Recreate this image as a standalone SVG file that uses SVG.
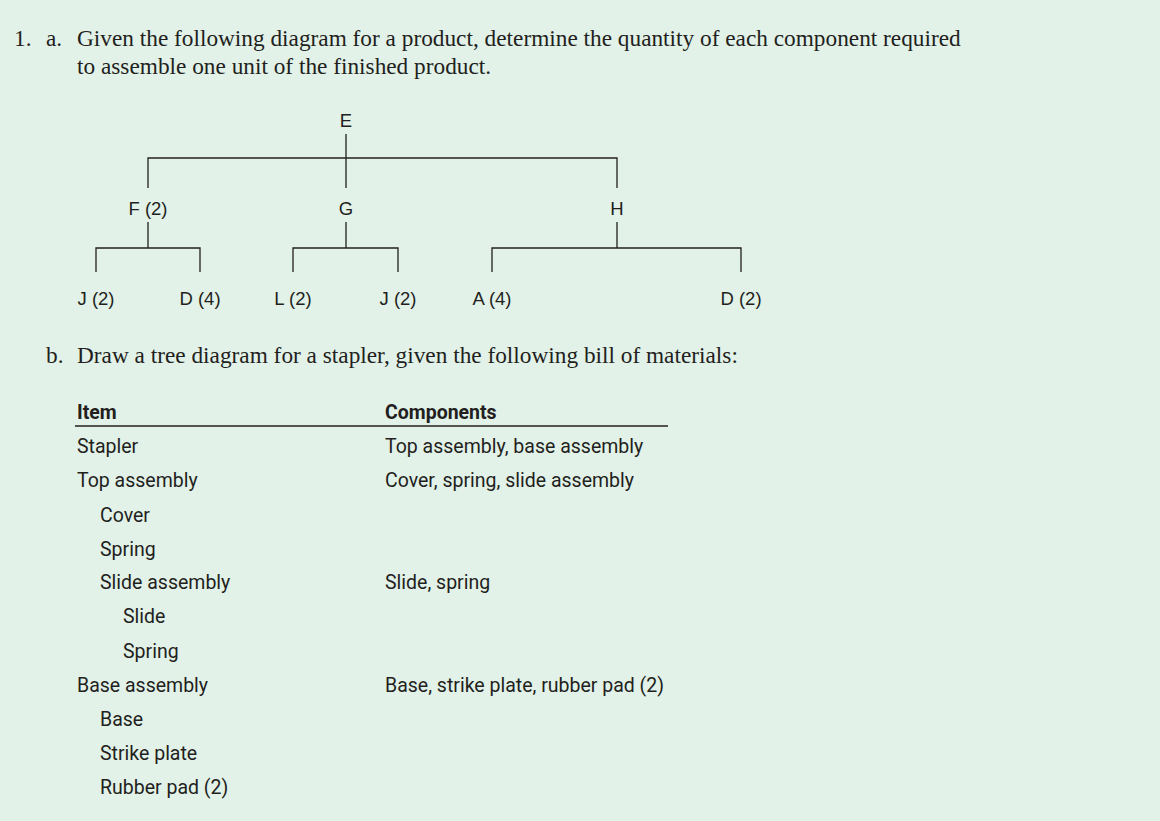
<svg xmlns="http://www.w3.org/2000/svg" width="1160" height="821" viewBox="0 0 1160 821">
<style>
.q{font-family:"Liberation Serif",serif;font-size:23.3px;fill:#231f20}
.n{font-family:"Liberation Sans",sans-serif;font-size:18.5px;fill:#231f20;text-anchor:middle}
.t{font-family:Roboto,sans-serif;font-size:19.5px;fill:#231f20}
.b{font-weight:bold}
.l{stroke:#231f20;stroke-width:1.3;fill:none}
</style>
<rect width="1160" height="821" fill="#e2f2e8"/>
<text class="q" x="14" y="46">1.</text>
<text class="q" x="46" y="46">a.</text>
<text class="q" x="77" y="46">Given the following diagram for a product, determine the quantity of each component required</text>
<text class="q" x="77" y="74">to assemble one unit of the finished product.</text>
<g id="connectors" class="l">
<path d="M346 134V188M148 188V158H617V188"/>
<path d="M148 222V248M96 272V248H200V272"/>
<path d="M346 222V248M293 272V248H398V272"/>
<path d="M617 222V248M492 272V248H741V272"/>
</g>
<g id="E"><text class="n" x="346" y="127">E</text></g>
<g id="F"><text class="n" x="148" y="215">F (2)</text></g>
<g id="G"><text class="n" x="346" y="215">G</text></g>
<g id="H"><text class="n" x="617" y="215">H</text></g>
<g id="J1"><text class="n" x="96" y="305">J (2)</text></g>
<g id="D1"><text class="n" x="200" y="305">D (4)</text></g>
<g id="L"><text class="n" x="293" y="305">L (2)</text></g>
<g id="J2"><text class="n" x="398" y="305">J (2)</text></g>
<g id="A"><text class="n" x="492" y="305">A (4)</text></g>
<g id="D2"><text class="n" x="741" y="305">D (2)</text></g>
<text class="q" x="46" y="363">b.</text>
<text class="q" x="77" y="363">Draw a tree diagram for a stapler, given the following bill of materials:</text>
<g id="table">
<text class="t b" x="77" y="419">Item</text>
<text class="t b" x="385" y="419">Components</text>
<line class="l" x1="75" y1="426" x2="668" y2="426"/>
<text class="t" x="77" y="453">Stapler</text>
<text class="t" x="385" y="453">Top assembly, base assembly</text>
<text class="t" x="77" y="487">Top assembly</text>
<text class="t" x="385" y="487">Cover, spring, slide assembly</text>
<text class="t" x="100" y="522">Cover</text>
<text class="t" x="100" y="556">Spring</text>
<text class="t" x="100" y="589">Slide assembly</text>
<text class="t" x="385" y="589">Slide, spring</text>
<text class="t" x="123" y="623">Slide</text>
<text class="t" x="123" y="658">Spring</text>
<text class="t" x="77" y="692">Base assembly</text>
<text class="t" x="385" y="692">Base, strike plate, rubber pad (2)</text>
<text class="t" x="100" y="726">Base</text>
<text class="t" x="100" y="760">Strike plate</text>
<text class="t" x="100" y="794">Rubber pad (2)</text>
</g>
</svg>
